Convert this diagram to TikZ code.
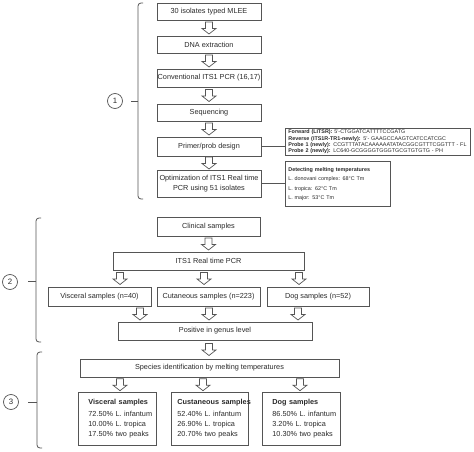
\documentclass[tikz,border=0pt]{standalone}
\usepackage{fontspec}
\setmainfont{Liberation Sans}
\usetikzlibrary{calc}
\definecolor{boxc}{HTML}{555555}
\definecolor{txt}{HTML}{2A2A2A}
\begin{document}
\begin{tikzpicture}[x=1pt,y=-1pt,
 box/.style={draw=boxc,line width=0.8pt,inner sep=0pt,text=txt,align=center,font=\fontsize{7.3}{10}\selectfont},
 info/.style={draw=boxc,line width=0.8pt,anchor=north west,inner xsep=3pt,inner ysep=1.5pt,text=txt,align=left,font=\fontsize{5.4}{6.2}\selectfont},
 res/.style={draw=boxc,line width=0.8pt,anchor=north west,inner ysep=0pt,inner xsep=1pt,text=txt,align=left,font=\fontsize{7.3}{10}\selectfont,minimum height=53pt},
 conn/.style={draw=boxc,line width=0.8pt},
 brk/.style={draw=boxc,line width=0.8pt,rounded corners=3pt},
 num/.style={circle,draw=boxc,line width=0.7pt,minimum size=15pt,inner sep=0pt,text=txt,font=\fontsize{7.8}{8}\selectfont},
 downarr/.pic={\draw[boxc,line width=0.7pt,fill=white] (-3.5,-6) -- (3.5,-6) -- (3.5,0.5) -- (7,0.5) -- (0,6) -- (-7,0.5) -- (-3.5,0.5) -- cycle;}
]
\useasboundingbox[fill=white] (0,0) rectangle (474,452);

% Section 1
\node[box,minimum width=104pt,minimum height=17pt] (b1) at (209,11.5) {30 isolates typed MLEE};
\node[box,minimum width=104pt,minimum height=17pt] (b2) at (209,44.5) {DNA extraction};
\node[box,minimum width=104pt,minimum height=18pt] (b3) at (209,78) {Conventional ITS1 PCR (16,17)};
\node[box,minimum width=104pt,minimum height=17pt] (b4) at (209,112.5) {Sequencing};
\node[box,minimum width=104pt,minimum height=19pt] (b5) at (209,146.5) {Primer/prob design};
\node[box,minimum width=104pt,minimum height=27pt] (b6) at (209,183.5) {Optimization of ITS1 Real time\\PCR using 51 isolates};

\pic at ($(b1.south)!.5!(b2.north)$) {downarr};
\pic at ($(b2.south)!.5!(b3.north)$) {downarr};
\pic at ($(b3.south)!.5!(b4.north)$) {downarr};
\pic at ($(b4.south)!.5!(b5.north)$) {downarr};
\pic at ($(b5.south)!.5!(b6.north)$) {downarr};

\node[info,text width=179pt,minimum height=26pt] (i1) at (285,128) {\textbf{Forward (LITSR):} 5'-CTGGATCATTTTCCGATG\\
\textbf{Reverse (ITS1R-TR1-newly):} 5'- GAAGCCAAGTCATCCATCGC\\
\textbf{Probe 1 (newly):} CCGTTTATACAAAAAATATACGGCGTTTCGGTTT - FL\\
\textbf{Probe 2 (newly):} LC640-GCGGGGTGGGTGCGTGTGTG - PH};
\node[info,text width=99pt,minimum height=45pt,inner ysep=3pt,font=\fontsize{5.4}{9.5}\selectfont] (i2) at (285,161) {\textbf{Detecting melting temperatures}\\
L. donovani complex: 68°C Tm\\
L. tropica: 62°C Tm\\
L. major: 53°C Tm};

\draw[conn] (b5.east) -- (b5.east -| i1.west);
\draw[conn] (b6.east) -- (b6.east -| i2.west);

\draw[brk] (143,3) -- (138,3) -- (138,199) -- (143,199);
\draw[conn] (138,101) -- (131,101);
\node[num] (c1) at (115,101) {1};

% Section 2
\node[box,minimum width=103pt,minimum height=19pt] (cs) at (208.5,226.5) {Clinical samples};
\node[box,minimum width=191pt,minimum height=18pt] (pcr) at (208.5,261) {ITS1 Real time PCR};
\node[box,minimum width=103pt,minimum height=19pt] (vis) at (99.5,296.5) {Visceral samples (n=40)};
\node[box,minimum width=103pt,minimum height=19pt] (cut) at (208.5,296.5) {Cutaneous samples (n=223)};
\node[box,minimum width=102pt,minimum height=19pt] (dog) at (318,296.5) {Dog samples (n=52)};
\node[box,minimum width=194pt,minimum height=18pt] (pos) at (215,331) {Positive in genus level};

\coordinate (xa) at (120,0);
\coordinate (xb) at (204,0);
\coordinate (xc) at (299,0);
\coordinate (xd) at (140,0);
\coordinate (xe) at (209,0);
\coordinate (xf) at (298,0);

\pic at ($(cs.south)!.5!(pcr.north)$) {downarr};
\pic at ($(pcr.south -| xa)!.5!(vis.north -| xa)$) {downarr};
\pic at ($(pcr.south -| xb)!.5!(cut.north -| xb)$) {downarr};
\pic at ($(pcr.south -| xc)!.5!(dog.north -| xc)$) {downarr};
\pic at ($(vis.south -| xd)!.5!(pos.north -| xd)$) {downarr};
\pic at ($(cut.south -| xe)!.5!(pos.north -| xe)$) {downarr};
\pic at ($(dog.south -| xf)!.5!(pos.north -| xf)$) {downarr};

\draw[brk] (41,218) -- (36,218) -- (36,342) -- (41,342);
\draw[conn] (36,281) -- (28,281);
\node[num] (c2) at (10,282) {2};

% Section 3
\node[box,minimum width=259pt,minimum height=18pt] (sp) at (209.5,368) {Species identification by melting temperatures};
\pic at ($(pos.south -| xe)!.5!(sp.north -| xe)$) {downarr};

\node[res,text width=76pt] (r1) at (78,392) {\hspace*{9pt}\mbox{\textbf{Visceral samples}}\\[2pt]\hspace*{9pt}\mbox{72.50\% L. infantum}\\\hspace*{9pt}\mbox{10.00\% L. tropica}\\\hspace*{9pt}\mbox{17.50\% two peaks}};
\node[res,text width=75pt] (r2) at (171,392) {\hspace*{5pt}\mbox{\textbf{Custaneous samples}}\\[2pt]\hspace*{5pt}\mbox{52.40\% L. infantum}\\\hspace*{5pt}\mbox{26.90\% L. tropica}\\\hspace*{5pt}\mbox{20.70\% two peaks}};
\node[res,text width=76pt] (r3) at (262,392) {\hspace*{9pt}\mbox{\textbf{Dog samples}}\\[2pt]\hspace*{9pt}\mbox{86.50\% L. infantum}\\\hspace*{9pt}\mbox{3.20\% L. tropica}\\\hspace*{9pt}\mbox{10.30\% two peaks}};

\coordinate (xg) at (120,0);
\coordinate (xh) at (203,0);
\coordinate (xi) at (300,0);
\pic at ($(sp.south -| xg)!.5!(r1.north -| xg)$) {downarr};
\pic at ($(sp.south -| xh)!.5!(r2.north -| xh)$) {downarr};
\pic at ($(sp.south -| xi)!.5!(r3.north -| xi)$) {downarr};

\draw[brk] (42,352) -- (37,352) -- (37,448) -- (42,448);
\draw[conn] (37,402) -- (28,402);
\node[num] (c3) at (11,402) {3};
\end{tikzpicture}
\end{document}
